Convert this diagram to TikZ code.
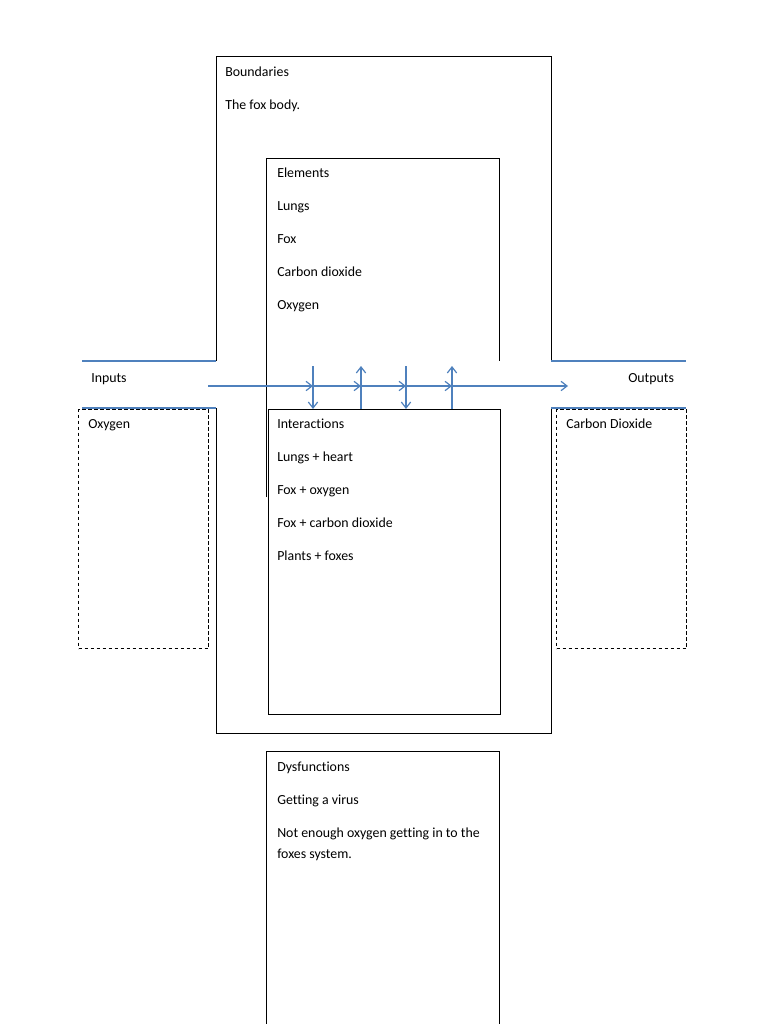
\documentclass[tikz,border=0pt]{standalone}
\usepackage{fontspec}
\setmainfont[Ligatures=NoCommon]{Carlito}
\definecolor{flow}{RGB}{79, 129, 189}
\usetikzlibrary{arrows.meta}

\begin{document}
\begin{tikzpicture}[
        x=0.75pt, y=-0.75pt,
        every node/.style={font=\fontsize{10.4}{15.75}\selectfont, align=left, inner sep=0pt},
        txt/.style={anchor=north west},
        box/.style={draw, line width=0.75pt, anchor=north west},
        dbox/.style={draw, line width=0.75pt, dash pattern=on 2.6pt off 1.9pt, anchor=north west},
        wall/.style={line width=0.75pt},
        chan/.style={flow, line width=0.9pt},
        arr/.style={-{Straight Barb[length=4.5pt, width=7pt]}, flow, line width=0.9pt}
    ]
        \useasboundingbox (0,0) rectangle (768,1024);

        % Boundaries: outer frame, open at inputs and outputs
        \draw[wall] (216,361) |- (551,57) -- (551,361);
        \draw[wall] (216,408) |- (551,733) -- (551,408);
        \node[txt] (bnd) at (225,67) {Boundaries\\[9pt]The fox body.};

        % Elements
        \draw[wall] (266,497) |- (499,158) -- (499,361);
        \node[txt] (elm) at (277,168) {Elements\\[9pt]Lungs\\[9pt]Fox\\[9pt]Carbon dioxide\\[9pt]Oxygen};

        % Interactions
        \node[box, minimum width=174pt, minimum height=228.75pt] (inter) at (268,409) {};
        \node[txt] (int) at (277,419) {Interactions\\[9pt]Lungs + heart\\[9pt]Fox + oxygen\\[9pt]Fox + carbon dioxide\\[9pt]Plants + foxes};

        % Dysfunctions
        \node[box, minimum width=174.75pt, minimum height=209.25pt] (dysf) at (266,751) {};
        \node[txt] (dys) at (277,762) {Dysfunctions\\[9pt]Getting a virus\\[9pt]Not enough oxygen getting in to the\\foxes system.};

        % Inputs and outputs
        \draw[chan] (82,361) -- (216,361);
        \draw[chan] (82,408) -- (216,408);
        \draw[chan] (551,361) -- (686,361);
        \draw[chan] (551,408) -- (686,408);
        \node[anchor=base west] (inp) at (91,382) {Inputs};
        \node[anchor=base west] (outp) at (628,382) {Outputs};
        \node[dbox, minimum width=97.5pt, minimum height=179.25pt] (oxbox) at (78,409) {};
        \node[dbox, minimum width=97.5pt, minimum height=179.25pt] (cobox) at (556,409) {};
        \node[txt] (oxy) at (88,419) {Oxygen};
        \node[txt] (co2) at (566,419) {Carbon Dioxide};

        % Flow through the system
        \coordinate (src) at (208,386);
        \coordinate (j1) at (313,386);
        \coordinate (j2) at (361,386);
        \coordinate (j3) at (406,386);
        \coordinate (j4) at (452,386);
        \coordinate (snk) at (568,386);
        \coordinate (u1) at (313,366);
        \coordinate (u2) at (361,366);
        \coordinate (u3) at (406,366);
        \coordinate (u4) at (452,366);

        \draw[arr] (src) -- (j1);
        \draw[arr] (j1) -- (j2);
        \draw[arr] (j2) -- (j3);
        \draw[arr] (j3) -- (j4);
        \draw[arr] (j4) -- (snk);
        \draw[arr] (u1) -- (u1 |- inter.north);
        \draw[arr] (u2 |- inter.north) -- (u2);
        \draw[arr] (u3) -- (u3 |- inter.north);
        \draw[arr] (u4 |- inter.north) -- (u4);
    \end{tikzpicture}
\end{document}
